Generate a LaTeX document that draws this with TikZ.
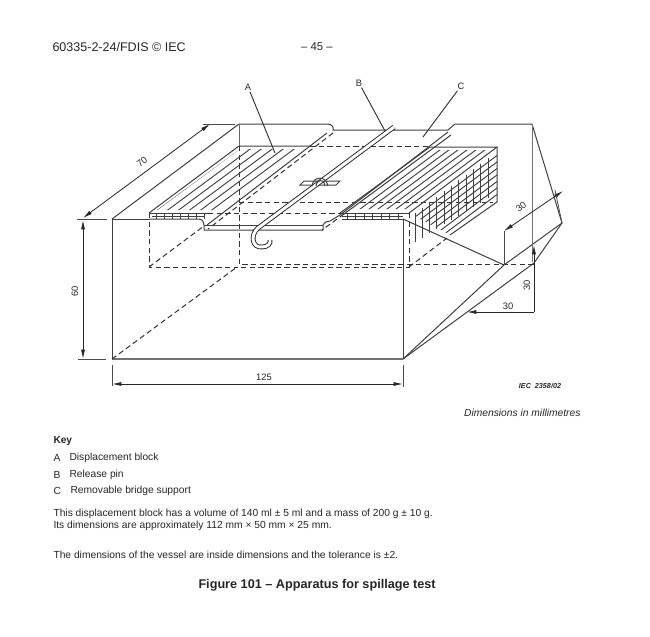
\documentclass[tikz,border=0pt]{standalone}
\usepackage{fontspec}
\setmainfont{Liberation Sans}
\usetikzlibrary{arrows.meta}
\tikzset{every picture/.style={line width=0.75pt}}
\tikzset{
  edgeline/.style={color=black!75},
  hidden/.style={color=black!80,dash pattern={on 4pt off 2.5pt}},
  hatchline/.style={color=black!75,line width=0.7pt},
  leaderline/.style={color=black!80,line width=0.7pt},
  dimline/.style={color=black!85,line width=0.6pt,{Latex[length=7pt,width=3pt]}-{Latex[length=7pt,width=3pt]}},
  dimend/.style={color=black!85,line width=0.6pt,-{Latex[length=7pt,width=3pt]}},
  extline/.style={color=black!70,line width=0.6pt},
  pinline/.style={double=white,double distance=2.2pt,line width=0.7pt,color=black!85},
  dimtext/.style={inner sep=0.75pt,font=\fontsize{7}{9}\selectfont,color=black!85},
  bodytext/.style={anchor=west,inner sep=0pt,font=\fontsize{7.7}{9}\selectfont,color=black!85}
}

\begin{document}
\begin{tikzpicture}[x=0.75pt,y=0.75pt,yscale=-1,xscale=1]
\useasboundingbox (0,0) rectangle (650,636);

%Vessel outline
\draw [edgeline] (112,219) -- (239,124) -- (327,124) .. controls (332,124) and (334,127) .. (333,130) -- (448,130) -- (455,124) -- (532,124) -- (562,223) -- (534,263) -- (403,359) ;
\draw [edgeline] (112,219) -- (149,219) ;
\draw [edgeline] (112,219) -- (112,359) ;
\draw [edgeline,line width=1.2pt,color=black!55] (112,359) -- (403,359) ;
\draw [edgeline] (403,219) -- (403,359) ;
\draw [edgeline] (403,359) -- (504,265) -- (562,223) ;
\draw [edgeline] (403,219) -- (504,265) ;
\draw [edgeline,color=black!55] (532,124) -- (532,262) ;
\draw [edgeline,color=black!60] (239,124) -- (239,146) ;

%Hidden lines
\draw [hidden] (112,359) -- (237,267) ;
\draw [hidden] (149,213) -- (149,267) -- (237,267) ;
\draw [hidden] (239,146) -- (239,264) -- (534,264) ;
\draw [hidden] (310,146) -- (430,146) ;
\draw [hidden] (239,202) -- (493,202) ;
\draw [hidden] (208,213) -- (340,213) ;
\draw [hidden] (409,213) -- (409,267) -- (237,267) ;
\draw [hidden] (409,267) -- (447,238) ;
\draw [hidden] (149,267) -- (204,226) ;

%Displacement block, left slope
\draw [edgeline] (149,213) -- (239,146) -- (310,146) ;
\begin{scope}
\clip (157,210) -- (240,149) -- (298,149) -- (218,210) -- cycle;
\foreach \i in {0,...,6}
  \draw [hatchline] ({150+\i*11},215) -- ({150+\i*11+70/0.74},145) ;
\end{scope}
%Left bridge edge
\draw [edgeline] (327,133) -- (207,225) ;
\draw [hidden] (333,133) -- (208,229) ;

%Left step
\draw [edgeline] (149,213) -- (208,213) ;
\draw [edgeline] (152,216) -- (205,216) ;
\draw [edgeline] (149,219) -- (198,219) .. controls (203,219) and (204,222) .. (204,225) -- (204,230) -- (323,230) ;
\draw [edgeline] (204,225) -- (323,225) ;
\foreach \i in {0,...,6}
  \draw [hatchline] ({156+\i*8},213.5) -- ({156+\i*8},218.5) ;

%Right step
\draw [edgeline] (323,230) -- (323,225) .. controls (325,222) and (327,221) .. (330,221) -- (340,215) ;
\draw [edgeline] (340,213) -- (409,213) ;
\draw [edgeline] (342,216) -- (403,216) ;
\draw [edgeline] (342,219) -- (403,219) ;
\foreach \i in {0,...,6}
  \draw [hatchline] ({347+\i*8.5},213.5) -- ({347+\i*8.5},218.5) ;

%Right bridge edge
\draw [edgeline] (448,132) -- (340,215) ;
\draw [edgeline] (451,135) -- (344,214) ;
\draw [hidden] (344,214) -- (322,230) ;

%Displacement block, right slope
\draw [edgeline] (340,213) -- (430,147) -- (497,147) -- (409,213) ;
\begin{scope}
\clip (352,209) -- (434,150) -- (488,150) -- (408,209) -- cycle;
\foreach \i in {0,...,7}
  \draw [hatchline] ({343+\i*9},215) -- ({343+\i*9+70/0.74},145) ;
\end{scope}

%Displacement block, front face
\draw [edgeline] (497,147) -- (497,202) -- (450,235) ;
\begin{scope}
\clip (409,213) -- (497,147) -- (497,202) -- (450,235) -- cycle;
\foreach \i in {1,...,7}
  \draw [hatchline] (409,{215+\i*6.5}) -- (497,{149+\i*6.5}) ;
\end{scope}
\foreach \i in {0,...,10}
  \draw [hatchline] ({415+\i*7.3},{213-\i*5.5}) -- ({415+\i*7.3},{230+(20-\i*7.3)*0.6}) ;

%Release pin
\draw [edgeline,fill=white] (300,185) -- (304,181) -- (340,181) -- (336,185) -- cycle ;
\draw [pinline] (394,127) -- (258,228) .. controls (250,235) and (252,248) .. (262,247) .. controls (268,247) and (271,243) .. (270,240) ;
\draw [edgeline] (312,186) .. controls (313,176) and (326,175) .. (328,186) ;
\draw [edgeline] (316,186) .. controls (317,179) and (324,178) .. (325,186) ;

%Leader lines
\node (keyA) at (248,87) [dimtext] {A};
\node (keyB) at (359,83) [dimtext] {B};
\node (keyC) at (461,86) [dimtext] {C};
\coordinate (tipA) at (275,153);
\coordinate (tipB) at (385,131);
\coordinate (tipC) at (423,137);
\draw [leaderline] (keyA) -- (tipA) ;
\draw [leaderline] (keyB) -- (tipB) ;
\draw [leaderline] (keyC) -- (tipC) ;

%Dimension 70
\draw [extline] (77,219) -- (107,219) ;
\draw [extline] (203,124) -- (235,124) ;
\draw [dimline] (83,218) -- (210,124) ;
\node at (142,162) [dimtext,rotate=37] {70};

%Dimension 60
\draw [extline] (78,359) -- (106,359) ;
\draw [dimline] (83,220) -- (83,359) ;
\node at (75,291) [dimtext,rotate=90] {60};

%Dimension 125
\draw [extline] (112,365) -- (112,386) ;
\draw [extline] (403,365) -- (403,387) ;
\draw [dimline] (112,384) -- (403,384) ;
\node at (264,377) [dimtext] {125};

%Dimensions 30
\draw [extline] (504,231) -- (504,265) ;
\draw [dimline] (504,231) -- (563,191) ;
\draw [extline] (555,190) -- (562,223) ;
\node at (521,207) [dimtext,rotate=37] {30};
\draw [dimend] (534,312) -- (534,245) ;
\node at (527,285) [dimtext,rotate=90] {30};
\draw [dimend] (534,312) -- (467,312) ;
\node at (508,306) [dimtext] {30};

%Page text
\node at (52,47) [bodytext,font=\fontsize{9.4}{11}\selectfont] {60335-2-24/FDIS © IEC};
\node at (317,47) [inner sep=0pt,font=\fontsize{8.5}{11}\selectfont,color=black!85] {– 45 –};
\node at (540,386) [inner sep=0pt,font=\fontsize{5.4}{6}\selectfont\bfseries\itshape,color=black!85] {IEC\ \ 2358/02};
\node at (581,413) [anchor=east,inner sep=0pt,font=\fontsize{7.7}{9}\selectfont\itshape,color=black!85] {Dimensions in millimetres};
\node at (53,441) [bodytext,font=\fontsize{7.6}{9}\selectfont\bfseries] {Key};
\node at (53,458) [bodytext] {A};
\node at (69,458) [bodytext] {Displacement block};
\node at (53,474.5) [bodytext] {B};
\node at (69,474.5) [bodytext] {Release pin};
\node at (53,490.5) [bodytext] {C};
\node at (70,490.5) [bodytext] {Removable bridge support};
\node at (53,514) [bodytext] {This displacement block has a volume of 140 ml ± 5 ml and a mass of 200 g ± 10 g.};
\node at (53,526) [bodytext] {Its dimensions are approximately 112 mm × 50 mm × 25 mm.};
\node at (53,555) [bodytext] {The dimensions of the vessel are inside dimensions and the tolerance is ±2.};
\node at (198,585) [bodytext,font=\fontsize{9.5}{11}\selectfont\bfseries] {Figure 101 – Apparatus for spillage test};
\end{tikzpicture}
\end{document}
